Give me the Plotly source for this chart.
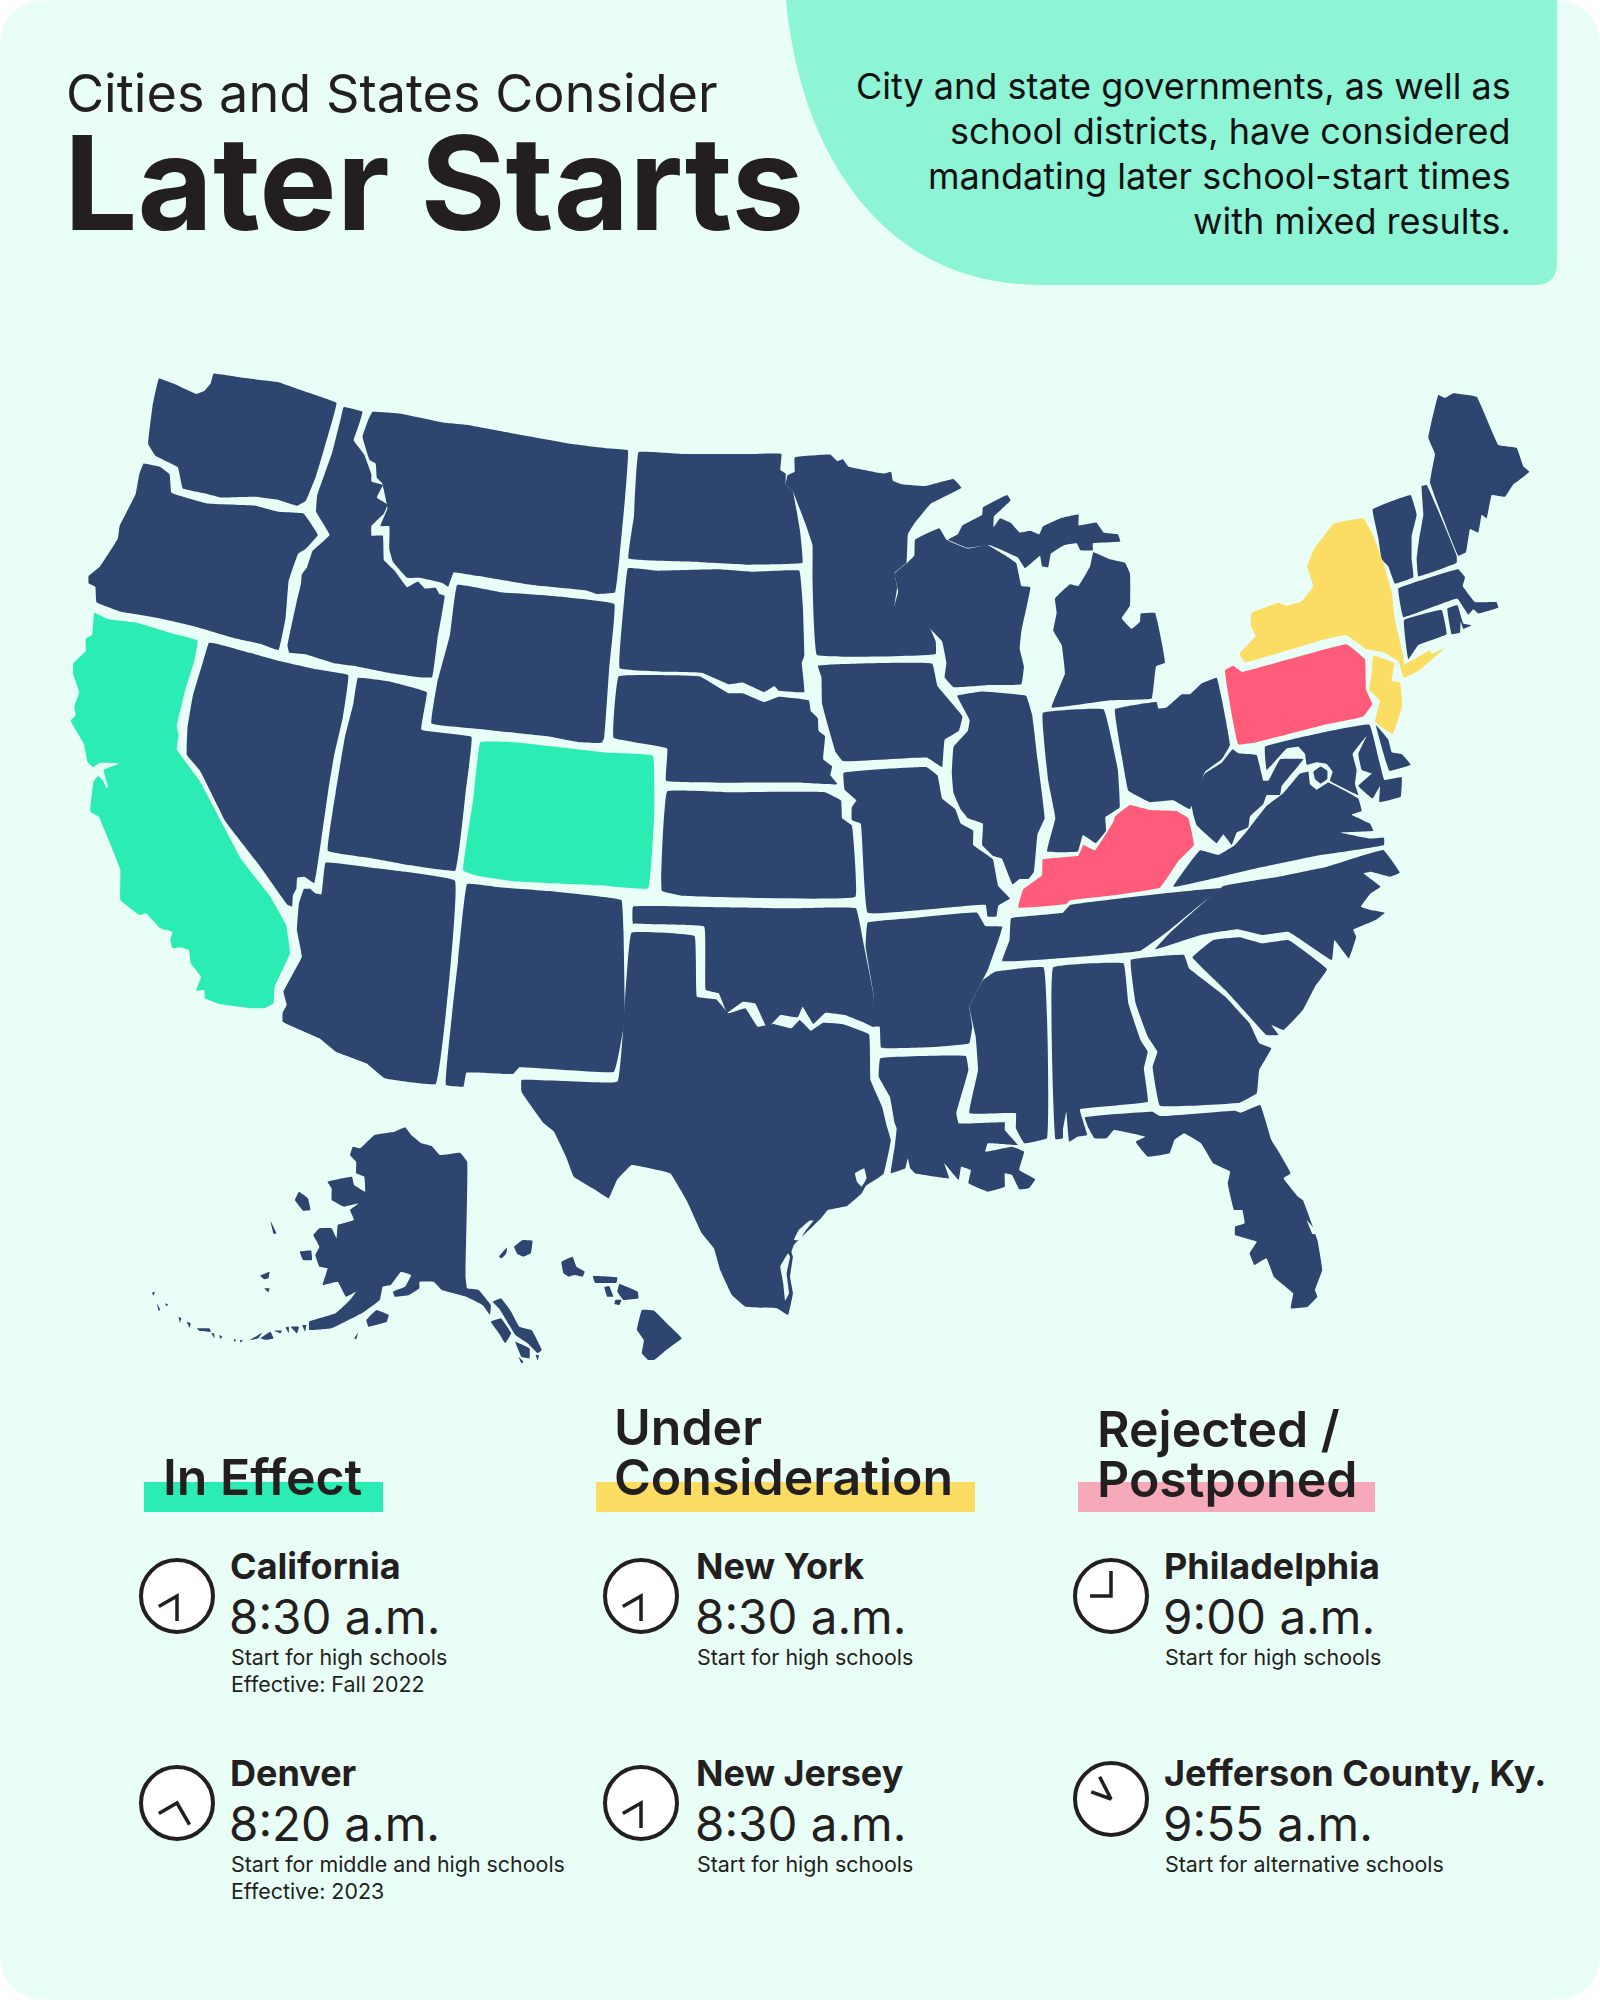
import math
import plotly.graph_objects as go

FONT = "Inter"
INK = "#231f20"
BG = "#e9fef7"
NAVY = "#2e4570"
GREEN = "#2bedb4"
YELLOW = "#fcdd63"
RED = "#ff5c7c"

# outlines, each list in the units of its map region
WA = [(305,52),(350,68),(410,95),(432,87),(450,65),(458,38),(540,50),(640,62),(720,90),(802,120),(770,240),(745,325),(716,395),(692,408),(640,392),(575,383),(480,385),(440,375),(372,360),(358,300),(295,268),(275,235),(287,130)]
OR = [(262,290),(310,300),(335,320),(340,372),(440,402),(575,408),(640,425),(710,430),(750,490),(715,530),(695,542),(668,620),(660,720),(640,812),(590,795),(520,780),(400,745),(300,722),(200,705),(130,678),(127,635),(108,625),(108,605),(140,578),(190,500),(195,465),(240,375),(250,320)]
CA = [(124,708),(160,725),(240,735),(340,765),(413,785),(405,840),(380,920),(355,1025),(360,1050),(355,1090),(420,1180),(537,1400),(617,1503),(661,1582),(672,1661),(629,1755),(626,1801),(600,1815),(566,1815),(474,1803),(434,1787),(432,1764),(409,1766),(423,1727),(394,1689),(389,1652),(366,1644),(343,1647),(337,1624),(343,1601),(309,1591),(269,1549),(251,1554),(197,1512),(197,1428),(175,1370),(150,1310),(138,1280),(113,1265),(122,1180),(135,1165),(150,1180),(158,1198),(163,1195),(150,1148),(195,1130),(140,1128),(120,1140),(105,1125),(95,1075),(58,1010),(72,995),(68,970),(82,930),(65,880),(65,850),(100,815),(100,780),(118,770)]
NV = [(445,792),(470,795),(560,820),(640,842),(740,865),(835,882),(820,1000),(795,1110),(780,1200),(760,1340),(740,1465),(712,1447),(692,1450),(690,1480),(680,1500),(678,1530),(665,1525),(590,1420),(520,1330),(490,1290),(420,1150),(383,1105),(385,1030),(400,940),(430,840)]
ID = [(822,132),(875,145),(862,190),(850,225),(880,265),(900,320),(900,340),(932,350),(915,385),(945,405),(935,430),(900,465),(900,492),(932,492),(935,560),(965,590),(1000,636),(1030,620),(1050,640),(1080,638),(1090,655),(1105,660),(1085,780),(1070,888),(1030,888),(960,878),(860,858),(800,850),(720,825),(670,820),(665,800),(690,680),(703,625),(705,600),(720,580),(735,535),(783,490),(745,425),(748,380),(790,260),(815,160)]
MT = [(903,145),(980,150),(1100,175),(1170,182),(1320,210),(1460,235),(1568,248),(1618,253),(1610,388),(1595,548),(1582,651),(1530,655),(1500,645),(1350,630),(1200,605),(1130,595),(1115,635),(1100,625),(1035,610),(1000,610),(960,565),(950,530),(950,465),(925,465),(945,415),(930,345),(915,330),(912,290),(895,280),(875,215),(890,170)]
WY = [(1140,630),(1260,650),(1400,660),(1580,683),(1566,860),(1552,1058),(1545,1072),(1480,1070),(1400,1055),(1220,1035),(1068,1018),(1085,900),(1120,770)]
UT = [(862,890),(950,900),(1055,930),(1040,1035),(1180,1055),(1165,1200),(1135,1430),(1010,1415),(900,1395),(778,1375),(800,1210),(825,1060),(850,960)]
CO = [(1205,1070),(1300,1070),(1568,1100),(1688,1108),(1692,1268),(1675,1480),(1540,1471),(1400,1465),(1300,1460),(1200,1445),(1157,1430),(1185,1230)]

AZ = [(622,87),(638,87),(650,100),(665,103),(675,8),(800,25),(992,62),(945,672),(820,655),(775,610),(700,575),(660,535),(570,485),(570,458),(580,435),(572,395),(617,290),(605,210),(610,130)]
NM = [(1022,72),(1100,82),(1240,95),(1400,120),(1405,210),(1408,480),(1382,635),(1150,622),(1135,642),(1020,638),(1013,680),(970,675),(1000,300)]
AK = [(870,802),(885,825),(910,850),(935,858),(955,885),(1005,878),(1022,905),(1018,1250),(1022,1285),(1050,1290),(1080,1335),(1078,1365),(1060,1335),(1020,1310),(960,1290),(940,1265),(905,1265),(905,1285),(880,1305),(845,1310),(840,1295),(870,1280),(885,1245),(860,1235),(835,1275),(815,1280),(808,1320),(770,1355),(740,1375),(690,1405),(635,1410),(635,1385),(700,1360),(735,1320),(750,1295),(725,1310),(705,1265),(668,1275),(680,1225),(660,1220),(650,1185),(660,1160),(645,1125),(660,1105),(690,1105),(702,1135),(705,1095),(745,1080),(735,1050),(757,1030),(720,1040),(690,1020),(690,985),(680,965),(740,950),(745,975),(772,995),(770,950),(750,940),(750,905),(735,885),(742,860),(760,865),(795,825),(845,815)]
AK_ISLANDS = [
    [(610,995),(632,1015),(638,1050),(620,1052),(600,1020)],
    [(540,1082),(555,1120),(548,1122)],
    [(775,1380),(800,1350),(830,1365),(825,1385),(780,1400)],
    [(745,1435),(755,1418),(750,1438)],
    [(612,1175),(640,1172),(642,1200),(620,1200)],
    [(515,1247),(538,1235),(535,1255),(525,1258)],
    [(525,1285),(538,1285),(535,1297)],
    [(490,1440),(520,1418),(510,1435)],
    [(515,1435),(540,1415),(548,1435),(530,1440)],
    [(550,1412),(568,1412),(565,1420)],
    [(577,1402),(585,1400),(585,1420)],
    [(590,1400),(610,1400),(605,1420)],
    [(618,1395),(628,1395),(625,1415)],
    [(360,1405),(390,1405),(395,1415),(365,1412)],
    [(395,1420),(402,1420),(403,1435)],
    [(415,1425),(422,1430),(417,1437)],
    [(450,1438),(456,1440),(452,1446)],
    [(465,1440),(473,1442),(467,1447)],
    [(335,1385),(345,1390),(342,1403)],
    [(315,1370),(322,1375),(318,1388)],
    [(262,1330),(270,1350),(266,1352)],
    [(283,1330),(290,1335),(284,1338)],
    [(250,1298),(258,1295),(253,1307)],
    [(1085,1325),(1105,1315),(1130,1355),(1150,1400),(1180,1410),(1205,1470),(1195,1480),(1170,1450),(1140,1425),(1120,1385),(1100,1345)],
    [(1080,1385),(1105,1375),(1130,1420),(1115,1450),(1100,1420)],
    [(1140,1445),(1175,1465),(1175,1495),(1155,1490)],
    [(1148,1490),(1160,1505),(1155,1510)],
    [(1190,1485),(1198,1485),(1195,1502)],
]
HI = [
    [(1100,1190),(1120,1162),(1118,1180),(1107,1195)],
    [(1137,1160),(1158,1140),(1182,1142),(1178,1180),(1160,1190),(1145,1182)],
    [(1253,1205),(1280,1190),(1290,1220),(1310,1235),(1305,1250),(1285,1245),(1270,1250),(1258,1240)],
    [(1330,1248),(1390,1252),(1388,1268),(1335,1268)],
    [(1358,1282),(1370,1278),(1380,1310),(1365,1310)],
    [(1395,1272),(1440,1295),(1442,1315),(1405,1320),(1390,1295)],
    [(1385,1320),(1400,1320),(1395,1335),(1383,1332)],
    [(1450,1350),(1480,1352),(1520,1400),(1548,1435),(1510,1470),(1480,1500),(1465,1500),(1450,1480),(1455,1440),(1438,1410)],
]

MN = [(545,105),(645,97),(665,115),(680,110),(695,130),(795,150),(815,145),(820,170),(845,180),(910,185),(990,165),(1012,190),(925,235),(880,290),(862,320),(858,400),(825,428),(832,470),(825,520),(855,540),(890,540),(925,585),(940,620),(940,655),(608,658),(595,450),(595,350),(575,290),(540,200),(520,180),(525,155),(545,145)]
ND = [(108,90),(230,95),(420,95),(508,95),(505,140),(520,150),(520,180),(540,200),(560,310),(567,400),(420,405),(280,398),(80,388),(95,270)]
SD = [(78,415),(160,422),(330,418),(430,425),(558,422),(568,520),(572,660),(565,680),(572,762),(500,758),(488,745),(460,762),(400,735),(360,740),(285,708),(180,705),(55,695),(68,500)]
NE = [(52,718),(280,718),(360,765),(400,765),(460,790),(500,775),(585,785),(590,815),(610,835),(612,870),(630,885),(625,950),(650,970),(645,995),(665,1020),(550,1015),(185,1010),(188,920),(38,890)]
IA = [(610,688),(930,682),(945,745),(1015,830),(1005,870),(965,895),(958,972),(915,945),(680,955),(660,930),(622,795),(620,720)]
KS = [(188,1040),(350,1042),(630,1042),(675,1065),(678,1115),(705,1135),(715,1335),(230,1332),(173,1318)]
MO = [(682,988),(915,972),(945,995),(958,1060),(995,1090),(1010,1130),(1045,1150),(1045,1190),(1100,1230),(1115,1305),(1148,1340),(1115,1360),(1110,1390),(1085,1390),(1080,1358),(750,1380),(730,1130),(705,1120),(705,1085),(718,1065),(685,1035)]
WI = [(882,335),(950,303),(970,335),(1030,360),(1085,350),(1165,400),(1180,465),(1205,468),(1180,590),(1175,640),(1187,690),(1180,740),(1090,742),(990,748),(965,720),(970,680),(958,620),(925,585),(890,545),(855,552),(825,520),(835,480),(825,430),(860,400),(880,380)]
IL = [(1000,772),(1070,760),(1193,772),(1210,825),(1225,950),(1245,1115),(1225,1160),(1215,1265),(1200,1285),(1175,1285),(1155,1300),(1125,1228),(1100,1220),(1070,1190),(1072,1130),(1030,1115),(1010,1090),(990,1045),(985,990),(990,915),(1030,870),(1035,840)]
IN = [(1240,820),(1410,810),(1450,980),(1455,1085),(1415,1112),(1417,1150),(1388,1185),(1352,1162),(1338,1208),(1252,1208),(1275,1115),(1255,1010)]
MI_UPPER = [(1002,320),(1015,295),(1070,265),(1072,245),(1140,210),(1150,225),(1103,270),(1102,300),(1120,275),(1150,288),(1175,315),(1205,310),(1230,320),(1240,298),(1290,275),(1340,265),(1340,295),(1390,287),(1410,315),(1450,320),(1457,340),(1380,345),(1380,365),(1345,365),(1335,345),(1300,350),(1262,375),(1255,412),(1238,410),(1232,380),(1190,415),(1170,385),(1090,350),(1030,358),(975,335)]

MI_LOWER = [(15,640),(60,600),(85,605),(120,550),(130,510),(180,530),(225,540),(240,570),(240,660),(215,695),(245,725),(270,705),(272,682),(315,680),(345,820),(318,830),(305,920),(180,925),(5,945),(45,850),(35,770),(10,730),(20,680)]
OH = [(195,950),(320,930),(325,948),(350,945),(395,908),(420,908),(455,878),(500,862),(540,1050),(515,1090),(465,1125),(420,1230),(370,1205),(300,1210),(235,1178),(215,1080)]
KY = [(-95,1505),(-81,1455),(-24,1415),(-22,1370),(85,1360),(100,1330),(135,1345),(190,1265),(195,1250),(240,1218),(300,1232),(380,1235),(415,1255),(432,1330),(385,1375),(330,1450),(200,1470),(60,1485),(50,1495)]
VA = [(505,1358),(555,1330),(600,1280),(650,1220),(700,1185),(750,1130),(775,1125),(780,1160),(800,1175),(835,1155),(925,1200),(935,1235),(905,1245),(960,1270),(970,1290),(870,1295),(960,1312),(1002,1310),(1002,1330),(800,1360),(620,1395),(370,1447),(450,1345)]
WV = [(548,1062),(565,1073),(620,1078),(640,1150),(655,1150),(690,1090),(760,1090),(745,1108),(695,1165),(690,1190),(650,1190),(640,1215),(600,1250),(595,1280),(560,1295),(545,1330),(520,1300),(500,1325),(440,1275),(430,1245),(425,1220),(440,1170),(465,1130),(515,1100)]
MD = [(645,1055),(958,993),(1003,1148),(1055,1140),(1052,1195),(988,1210),(990,1165),(968,1200),(925,1165),(965,1130),(935,1120),(925,1075),(950,1025),(908,1075),(920,1120),(915,1160),(925,1190),(840,1150),(848,1125),(830,1103),(800,1098),(770,1105),(765,1075),(745,1055),(710,1060),(650,1120)]
DE = [(978,995),(1015,1035),(1025,1070),(1055,1075),(1082,1105),(1018,1122)]
DC = [(812,1110),(832,1122),(832,1145),(812,1158),(795,1145),(790,1125)]
PA = [(525,840),(550,828),(575,845),(890,768),(945,810),(948,895),(967,935),(940,970),(830,992),(620,1042),(565,1048)]
NY = [(568,795),(617,745),(602,715),(605,680),(685,652),(710,660),(755,648),(790,605),(772,550),(790,505),(852,430),(940,415),(968,460),(1000,540),(1025,620),(1035,700),(1060,800),(1062,825),(1140,785),(1145,795),(1185,778),(1110,840),(1062,862),(1045,815),(1000,790),(950,782),(888,742),(820,755),(585,818)]
NJ = [(970,800),(1033,820),(1025,870),(1050,875),(1057,940),(1028,1020),(975,985),(990,925),(958,895),(965,850)]
VT = [(968,390),(1082,350),(1100,405),(1085,465),(1085,530),(1090,580),(1035,598),(1015,550),(995,530),(985,470)]
NH = [(1115,325),(1130,322),(1220,520),(1220,540),(1105,578),(1100,530),(1108,470),(1120,405)]
ME = [(1165,70),(1185,78),(1210,65),(1280,75),(1345,210),(1400,218),(1420,270),(1438,285),(1405,310),(1390,320),(1365,355),(1325,350),(1310,415),(1295,405),(1285,455),(1260,445),(1248,510),(1225,520),(1140,315),(1145,285),(1155,235),(1135,190)]
MA = [(1045,612),(1195,565),(1225,558),(1245,580),(1238,605),(1275,650),(1340,650),(1345,665),(1285,682),(1270,670),(1255,685),(1222,640),(1060,692)]
CT = [(1062,700),(1175,672),(1190,740),(1105,770),(1075,810)]
RI = [(1192,668),(1222,658),(1240,710),(1265,715),(1240,725),(1232,705),(1230,735),(1205,740)]

TX = [(65,158),(195,168),(200,350),(240,358),(265,400),(300,385),(325,440),(358,432),(395,445),(412,420),(435,452),(460,428),(500,432),(555,463),(558,600),(582,680),(592,740),(600,780),(585,882),(548,918),(540,940),(510,978),(470,990),(456,1015),(400,1095),(395,1115),(398,1130),(392,1190),(398,1240),(388,1305),(365,1285),(300,1280),(272,1245),(248,1170),(235,1105),(210,1060),(180,965),(145,880),(65,855),(35,900),(18,955),(-15,925),(-54,890),(-70,830),(-95,755),(-116,730),(-162,635),(-162,600),(36,605),(50,400)]
OK = [(68,80),(250,82),(400,85),(528,85),(545,200),(565,350),(563,440),(545,428),(505,405),(465,398),(440,432),(418,380),(408,412),(372,405),(345,445),(320,370),(295,365),(262,398),(245,340),(218,330),(215,140),(68,130)]
AR = [(552,128),(640,115),(778,98),(795,138),(830,140),(822,180),(800,270),(762,380),(768,440),(762,490),(700,500),(580,503),(577,440),(562,440),(565,350),(548,200)]
LA = [(578,535),(755,528),(760,570),(735,700),(740,730),(835,727),(835,750),(862,795),(800,790),(795,815),(850,800),(875,815),(865,870),(898,898),(885,925),(865,928),(850,885),(835,880),(835,920),(800,935),(760,910),(765,870),(745,860),(740,900),(710,850),(720,895),(650,880),(640,865),(635,835),(630,865),(600,880),(608,800),(612,745),(608,730),(598,650),(575,590)]
MS = [(815,275),(915,262),(922,775),(875,790),(858,745),(858,700),(762,700),(780,570),(775,470),(762,380),(790,300)]
AL = [(935,262),(1080,250),(1090,370),(1115,480),(1130,515),(1122,565),(1130,665),(990,688),(1005,765),(985,770),(968,785),(962,695),(955,750),(955,775),(940,778)]
GA = [(1095,240),(1205,225),(1215,265),(1290,350),(1340,430),(1360,490),(1385,505),(1360,570),(1355,640),(1320,668),(1155,677),(1140,560),(1150,515),(1130,470),(1105,370)]
SC = [(1222,232),(1265,180),(1320,172),(1365,190),(1420,180),(1500,268),(1475,320),(1450,390),(1410,450),(1385,435),(1400,465),(1375,465),(1340,410),(1290,330),(1240,260)]
FL = [(1000,712),(1140,695),(1155,708),(1310,692),(1322,698),(1362,675),(1385,780),(1400,815),(1425,880),(1410,895),(1440,950),(1450,960),(1480,1080),(1490,1170),(1475,1230),(1480,1250),(1460,1280),(1425,1285),(1430,1240),(1390,1190),(1375,1135),(1350,1155),(1340,1120),(1355,1085),(1310,1065),(1310,1040),(1330,1030),(1325,990),(1308,990),(1295,910),(1300,875),(1265,850),(1240,790),(1205,760),(1185,780),(1175,820),(1130,830),(1105,785),(1125,770),(1060,750),(1045,775),(1020,775),(1008,745)]
NC = [(1286,18),(1400,-10),(1500,-40),(1616,-90),(1650,-22),(1630,-10),(1590,-25),(1575,-20),(1610,20),(1590,40),(1570,80),(1590,90),(1619,98),(1600,120),(1554,149),(1560,170),(1545,235),(1515,180),(1510,240),(1420,155),(1365,165),(1315,148),(1240,165),(1145,208),(1175,160),(1220,100)]
TN = [(848,115),(955,98),(970,75),(1280,25),(1225,90),(1175,150),(1115,212),(830,243),(845,180)]

# coastal lagoons and bays cut out of the southern states
GULF_WATER = [
    [(388,1120),(372,1160),(378,1210),(382,1262),(390,1240),(385,1180),(392,1130)],
    [(432,1022),(410,1050),(400,1080),(412,1080),(425,1050),(440,1022)],
    [(526,880),(545,865),(550,895),(540,920),(530,905)],
    [(1458,1020),(1482,1062),(1470,1062)],
]

# region -> left, top, x units per pixel, y units per pixel
REGIONS = {
    "west": (50, 360, 2.8, 2.8),
    "south_west": (50, 860, 2.45, 3),
    "midwest": (600, 420, 2.8, 2.8),
    "east": (1050, 370, 3, 2.8),
    "south": (600, 880, 2.063, 3),
}
STATE_PARTS = [
    ("west", NAVY, [WA, OR, NV, ID, MT, WY, UT]),
    ("west", GREEN, [CA, CO]),
    ("south_west", NAVY, [AZ, NM, AK] + AK_ISLANDS + HI),
    ("midwest", NAVY, [MN, ND, SD, NE, IA, KS, MO, WI, IL, IN, MI_UPPER]),
    ("east", NAVY, [MI_LOWER, OH, VA, WV, MD, DE, DC, VT, NH, ME, MA, CT, RI]),
    ("east", YELLOW, [NY, NJ]),
    ("east", RED, [PA, KY]),
    ("south", NAVY, [TX, OK, AR, LA, MS, AL, GA, SC, FL, NC, TN]),
    ("south", BG, GULF_WATER),
]

HEAD_TOP = "Cities and States Consider"
HEAD_MAIN = "Later Starts"
INTRO = [
    "City and state governments, as well as",
    "school districts, have considered",
    "mandating later school-start times",
    "with mixed results.",
]

GROUP_LINES = [["In Effect"], ["Under", "Consideration"], ["Rejected /", "Postponed"]]
GROUP_COLORS = [GREEN, YELLOW, "#f6a9b9"]

CARD_NAMES = ["California", "Denver", "New York", "New Jersey", "Philadelphia", "Jefferson County, Ky."]
CARD_TIMES = ["8:30 a.m.", "8:20 a.m.", "8:30 a.m.", "8:30 a.m.", "9:00 a.m.", "9:55 a.m."]
CARD_NOTES = [
    ["Start for high schools", "Effective: Fall 2022"],
    ["Start for middle and high schools", "Effective: 2023"],
    ["Start for high schools"],
    ["Start for high schools"],
    ["Start for high schools"],
    ["Start for alternative schools"],
]
HOUR_HAND_DEG = [240, 240, 240, 240, 270, 290]
MINUTE_HAND_DEG = [180, 150, 180, 180, 0, 333]
CLOCK_X = [177, 177, 641, 641, 1111, 1111]
CLOCK_Y = [1596, 1803, 1596, 1803, 1596, 1799]
CARD_X = [229, 229, 695, 695, 1163, 1163]
CARD_Y = [1579, 1786, 1579, 1786, 1579, 1786]


def to_page(points, region):
    left, top, sx, sy = REGIONS[region]
    return [left + p[0] / sx for p in points], [top + p[1] / sy for p in points]


def add_text(fig, x, base, text, size, weight=400, anchor="left", color=INK):
    # y is the text baseline, the box sits on the descent of the font
    fig.add_annotation(
        x=x, y=base + 0.242 * size + 1, text=text, showarrow=False,
        xanchor=anchor, yanchor="bottom", borderpad=0, align=anchor,
        font=dict(family=FONT, size=size, color=color, weight=weight),
    )


fig = go.Figure()

# card background and the teal corner
fig.add_shape(
    type="path",
    path="M0,50 Q0,0 50,0 L1550,0 Q1600,0 1600,50 L1600,1950 Q1600,2000 1550,2000 L50,2000 Q0,2000 0,1950 Z",
    fillcolor=BG, line_width=0, layer="below",
)
fig.add_shape(
    type="path",
    path="M786,0 C800,150 880,285 1041,285 L1535,285 Q1557,285 1557,262 L1557,0 Z",
    fillcolor="#8df4d6", line_width=0, layer="below",
)

for region, color, outlines in STATE_PARTS:
    for outline in outlines:
        xs, ys = to_page(outline, region)
        fig.add_trace(go.Scatter(
            x=xs + xs[:1], y=ys + ys[:1], mode="lines", fill="toself", fillcolor=color,
            line=dict(width=0, color=color, shape="spline", smoothing=0.2), hoverinfo="skip",
        ))

add_text(fig, 65, 112, HEAD_TOP, 52.2)
add_text(fig, 63, 230, HEAD_MAIN, 130, weight=700)
for i, line in enumerate(INTRO):
    add_text(fig, 1512, 99 + i * 45, line, 36, anchor="right", color="#111111")

# group headings with their colour bar
BAR_X0 = [144, 596, 1078]
BAR_X1 = [383, 975, 1375]
HEAD_X = [162, 613, 1096]
HEAD_BASE = [1495, 1495, 1497]
for i, lines in enumerate(GROUP_LINES):
    fig.add_shape(type="rect", x0=BAR_X0[i], x1=BAR_X1[i], y0=1482, y1=1512,
                  fillcolor=GROUP_COLORS[i], line_width=0, layer="below")
    for j, line in enumerate(reversed(lines)):
        add_text(fig, HEAD_X[i], HEAD_BASE[i] - j * 50, line, 50, weight=600)

fig.add_trace(go.Scatter(
    x=CLOCK_X, y=CLOCK_Y, mode="markers", hoverinfo="skip",
    marker=dict(size=72, color="white", line=dict(color=INK, width=4)),
))
for i in range(len(CARD_NAMES)):
    hx = CLOCK_X[i] + 21 * math.sin(math.radians(HOUR_HAND_DEG[i]))
    hy = CLOCK_Y[i] - 21 * math.cos(math.radians(HOUR_HAND_DEG[i]))
    mx = CLOCK_X[i] + 25 * math.sin(math.radians(MINUTE_HAND_DEG[i]))
    my = CLOCK_Y[i] - 25 * math.cos(math.radians(MINUTE_HAND_DEG[i]))
    fig.add_trace(go.Scatter(
        x=[hx, CLOCK_X[i], mx], y=[hy, CLOCK_Y[i], my], mode="lines", hoverinfo="skip",
        line=dict(color=INK, width=3.5),
    ))
    x, y = CARD_X[i], CARD_Y[i]
    add_text(fig, x, y, CARD_NAMES[i], 36, weight=700)
    add_text(fig, x - 1, y + 54, CARD_TIMES[i], 47.5)
    for j, note in enumerate(CARD_NOTES[i]):
        add_text(fig, x + 1, y + 86 + j * 26.5, note, 21.4)

fig.update_xaxes(range=[0, 1600], visible=False, fixedrange=True)
fig.update_yaxes(range=[2000, 0], visible=False, fixedrange=True)
fig.update_layout(
    width=1600, height=2000, margin=dict(l=0, r=0, t=0, b=0),
    paper_bgcolor="white", plot_bgcolor="rgba(0,0,0,0)", showlegend=False,
)
fig.write_html(
    "out.html",
    config={"displayModeBar": False},
    post_script="document.body.style.margin = '0';",
)
